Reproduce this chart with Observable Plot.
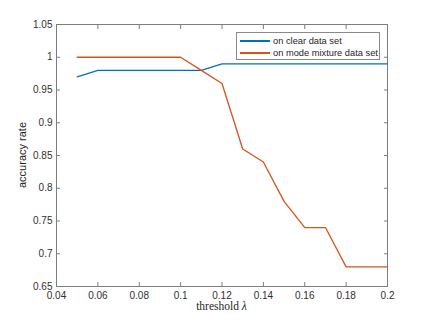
<!DOCTYPE html>
<html>
<head>
<meta charset="utf-8">
<script src="https://cdn.jsdelivr.net/npm/d3@7"></script>
<script src="https://cdn.jsdelivr.net/npm/@observablehq/plot@0.6"></script>
<style>
  body { margin: 0; background: #fff; }
  #wrap { position: relative; width: 428px; height: 321px; }
  #legend {
    position: absolute; left: 236px; top: 32px; width: 142px; height: 26px;
    border: 1px solid #8a8a8a; background: #fff;
    font-family: "Liberation Sans", Arial, sans-serif; font-size: 9.3px; color: #262626;
  }
  .row { position: absolute; left: 3px; height: 12px; display: flex; align-items: center; white-space: nowrap; line-height: 12px; }
  .sw { display: block; width: 30px; height: 1.3px; margin-right: 3px; flex: none; }
  #xlabel {
    position: absolute; left: 56px; width: 331px; top: 302px; text-align: center; line-height: 8px;
    font-family: "Liberation Serif", "DejaVu Serif", serif; font-size: 11.5px; color: #262626;
  }
  #ylabel {
    position: absolute; left: 22px; top: 155px; transform: translate(-50%, -50%) rotate(-90deg);
    font-family: "Liberation Sans", Arial, sans-serif; font-size: 11px; color: #262626; white-space: nowrap; line-height: 12px;
  }
</style>
</head>
<body>
<div id="wrap"></div>
<script>
const thresholds = [0.05, 0.06, 0.07, 0.08, 0.09, 0.10, 0.11, 0.12, 0.13, 0.14, 0.15, 0.16, 0.17, 0.18, 0.19, 0.20];
const clearRate   = [0.97, 0.98, 0.98, 0.98, 0.98, 0.98, 0.98, 0.99, 0.99, 0.99, 0.99, 0.99, 0.99, 0.99, 0.99, 0.99];
const mixtureRate = [1.00, 1.00, 1.00, 1.00, 1.00, 1.00, 0.98, 0.96, 0.86, 0.84, 0.78, 0.74, 0.74, 0.68, 0.68, 0.68];
const seriesNames = ["on clear data set", "on mode mixture data set"];
const seriesColors = ["#0072BD", "#D95319"];
const xTicks = [0.04, 0.06, 0.08, 0.10, 0.12, 0.14, 0.16, 0.18, 0.20];
const xTickLabels = ["0.04", "0.06", "0.08", "0.1", "0.12", "0.14", "0.16", "0.18", "0.2"];
const yTicks = [0.65, 0.70, 0.75, 0.80, 0.85, 0.90, 0.95, 1.00, 1.05];
const yTickLabels = ["0.65", "0.7", "0.75", "0.8", "0.85", "0.9", "0.95", "1", "1.05"];
const xLabel = "threshold ";
const yLabel = "accuracy rate";

const rows = [];
thresholds.forEach((t, i) => {
  rows.push({x: t, y: clearRate[i], s: seriesNames[0]});
});
thresholds.forEach((t, i) => {
  rows.push({x: t, y: mixtureRate[i], s: seriesNames[1]});
});

const axisColor = "#7d7d7d";
const textColor = "#303030";
const xFmt = d => xTickLabels[xTicks.findIndex(v => Math.abs(v - d) < 1e-9)];
const yFmt = d => yTickLabels[yTicks.findIndex(v => Math.abs(v - d) < 1e-9)];

const chart = Plot.plot({
  width: 428, height: 321,
  marginLeft: 56, marginRight: 41, marginTop: 24, marginBottom: 35,
  style: {fontFamily: "'Liberation Sans', Arial, sans-serif", fontSize: "10px", color: textColor, background: "#fff"},
  x: {domain: [0.04, 0.2]},
  y: {domain: [0.65, 1.05]},
  color: {domain: seriesNames, range: seriesColors},
  marks: [
    Plot.frame({stroke: axisColor, strokeWidth: 1}),
    Plot.axisX(xTicks, {anchor: "bottom", tickSize: -4, tickPadding: 9, tickFormat: xFmt, stroke: axisColor, fill: textColor, label: null}),
    Plot.axisX(xTicks, {anchor: "top", tickSize: -4, tickFormat: () => "", stroke: axisColor, label: null}),
    Plot.axisY(yTicks, {anchor: "left", tickSize: -4, tickPadding: 8, tickFormat: yFmt, stroke: axisColor, fill: textColor, label: null}),
    Plot.axisY(yTicks, {anchor: "right", tickSize: -4, tickFormat: () => "", stroke: axisColor, label: null}),
    Plot.line(rows, {x: "x", y: "y", z: "s", stroke: "s", strokeWidth: 1.3})
  ]
});

const wrap = document.getElementById("wrap");
wrap.appendChild(chart);

const legend = document.createElement("div");
legend.id = "legend";
seriesNames.forEach((name, i) => {
  const row = document.createElement("div");
  row.className = "row";
  row.style.top = (2 + i * 12) + "px";
  const sw = document.createElement("span");
  sw.className = "sw";
  sw.style.background = seriesColors[i];
  const label = document.createElement("span");
  label.textContent = name;
  row.appendChild(sw);
  row.appendChild(label);
  legend.appendChild(row);
});
wrap.appendChild(legend);

const xl = document.createElement("div");
xl.id = "xlabel";
xl.innerHTML = xLabel + "<i>λ</i>";
wrap.appendChild(xl);

const yl = document.createElement("div");
yl.id = "ylabel";
yl.textContent = yLabel;
wrap.appendChild(yl);
</script>
</body>
</html>
